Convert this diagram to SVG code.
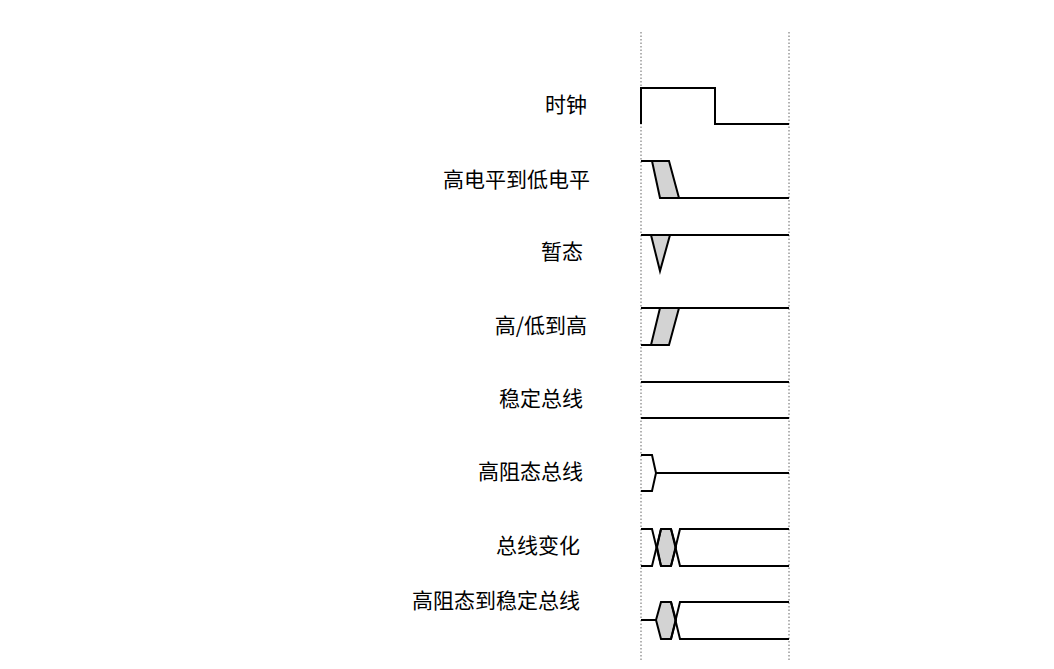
<svg xmlns="http://www.w3.org/2000/svg" width="1054" height="669" viewBox="0 0 1054 669">
<style>
text{font-family:"Noto Sans CJK SC","Noto Sans",sans-serif;font-size:21px;fill:#000;text-anchor:end}
.w{fill:none;stroke:#000;stroke-width:2}
.g{fill:#d3d3d3;stroke:#000;stroke-width:2;stroke-linejoin:miter}
.d{stroke:#666;stroke-width:1;stroke-dasharray:1.5 2}
</style>
<rect width="1054" height="669" fill="#fff"/>
<g id="guides"><line class="d" x1="641" y1="32" x2="641" y2="660"/><line class="d" x1="789" y1="32" x2="789" y2="660"/></g>
<g id="labels">
<text x="587" y="112">时钟</text>
<text x="590" y="187">高电平到低电平</text>
<text x="583" y="259">暂态</text>
<text x="587" y="333">高/低到高</text>
<text x="583" y="406">稳定总线</text>
<text x="583" y="479">高阻态总线</text>
<text x="580" y="553">总线变化</text>
<text x="580" y="608">高阻态到稳定总线</text>
</g>
<g id="connectors">
<polyline class="w" points="641,124 641,88 715,88 715,124 789,124"/>
<line class="w" x1="641" y1="161" x2="669" y2="161"/>
<polygon class="g" points="652,161 669,161 679,198 660,198"/>
<line class="w" x1="660" y1="198" x2="789" y2="198"/>
<line class="w" x1="641" y1="235" x2="789" y2="235"/>
<polygon class="g" points="651,235 670,235 660,271"/>
<line class="w" x1="641" y1="308" x2="789" y2="308"/>
<line class="w" x1="641" y1="345" x2="669" y2="345"/>
<polygon class="g" points="651,345 669,345 679,308 660,308"/>
<line class="w" x1="641" y1="382" x2="789" y2="382"/>
<line class="w" x1="641" y1="418" x2="789" y2="418"/>
<polyline class="w" points="641,455 652,455 656,473 652,491 641,491"/>
<line class="w" x1="656" y1="473" x2="789" y2="473"/>
<polygon class="g" points="657,547 661,529 671,529 676,547 671,566 661,566"/>
<polyline class="w" points="641,529 652,529 661,566"/>
<polyline class="w" points="641,566 652,566 661,529"/>
<polyline class="w" points="671,529 680,566 789,566"/>
<polyline class="w" points="671,566 680,529 789,529"/>
<line class="w" x1="641" y1="620" x2="656" y2="620"/>
<polygon class="g" points="656,620 661,602 671,602 676,620 671,639 661,639"/>
<polyline class="w" points="671,602 680,639 789,639"/>
<polyline class="w" points="671,639 680,602 789,602"/>
</g>
</svg>
